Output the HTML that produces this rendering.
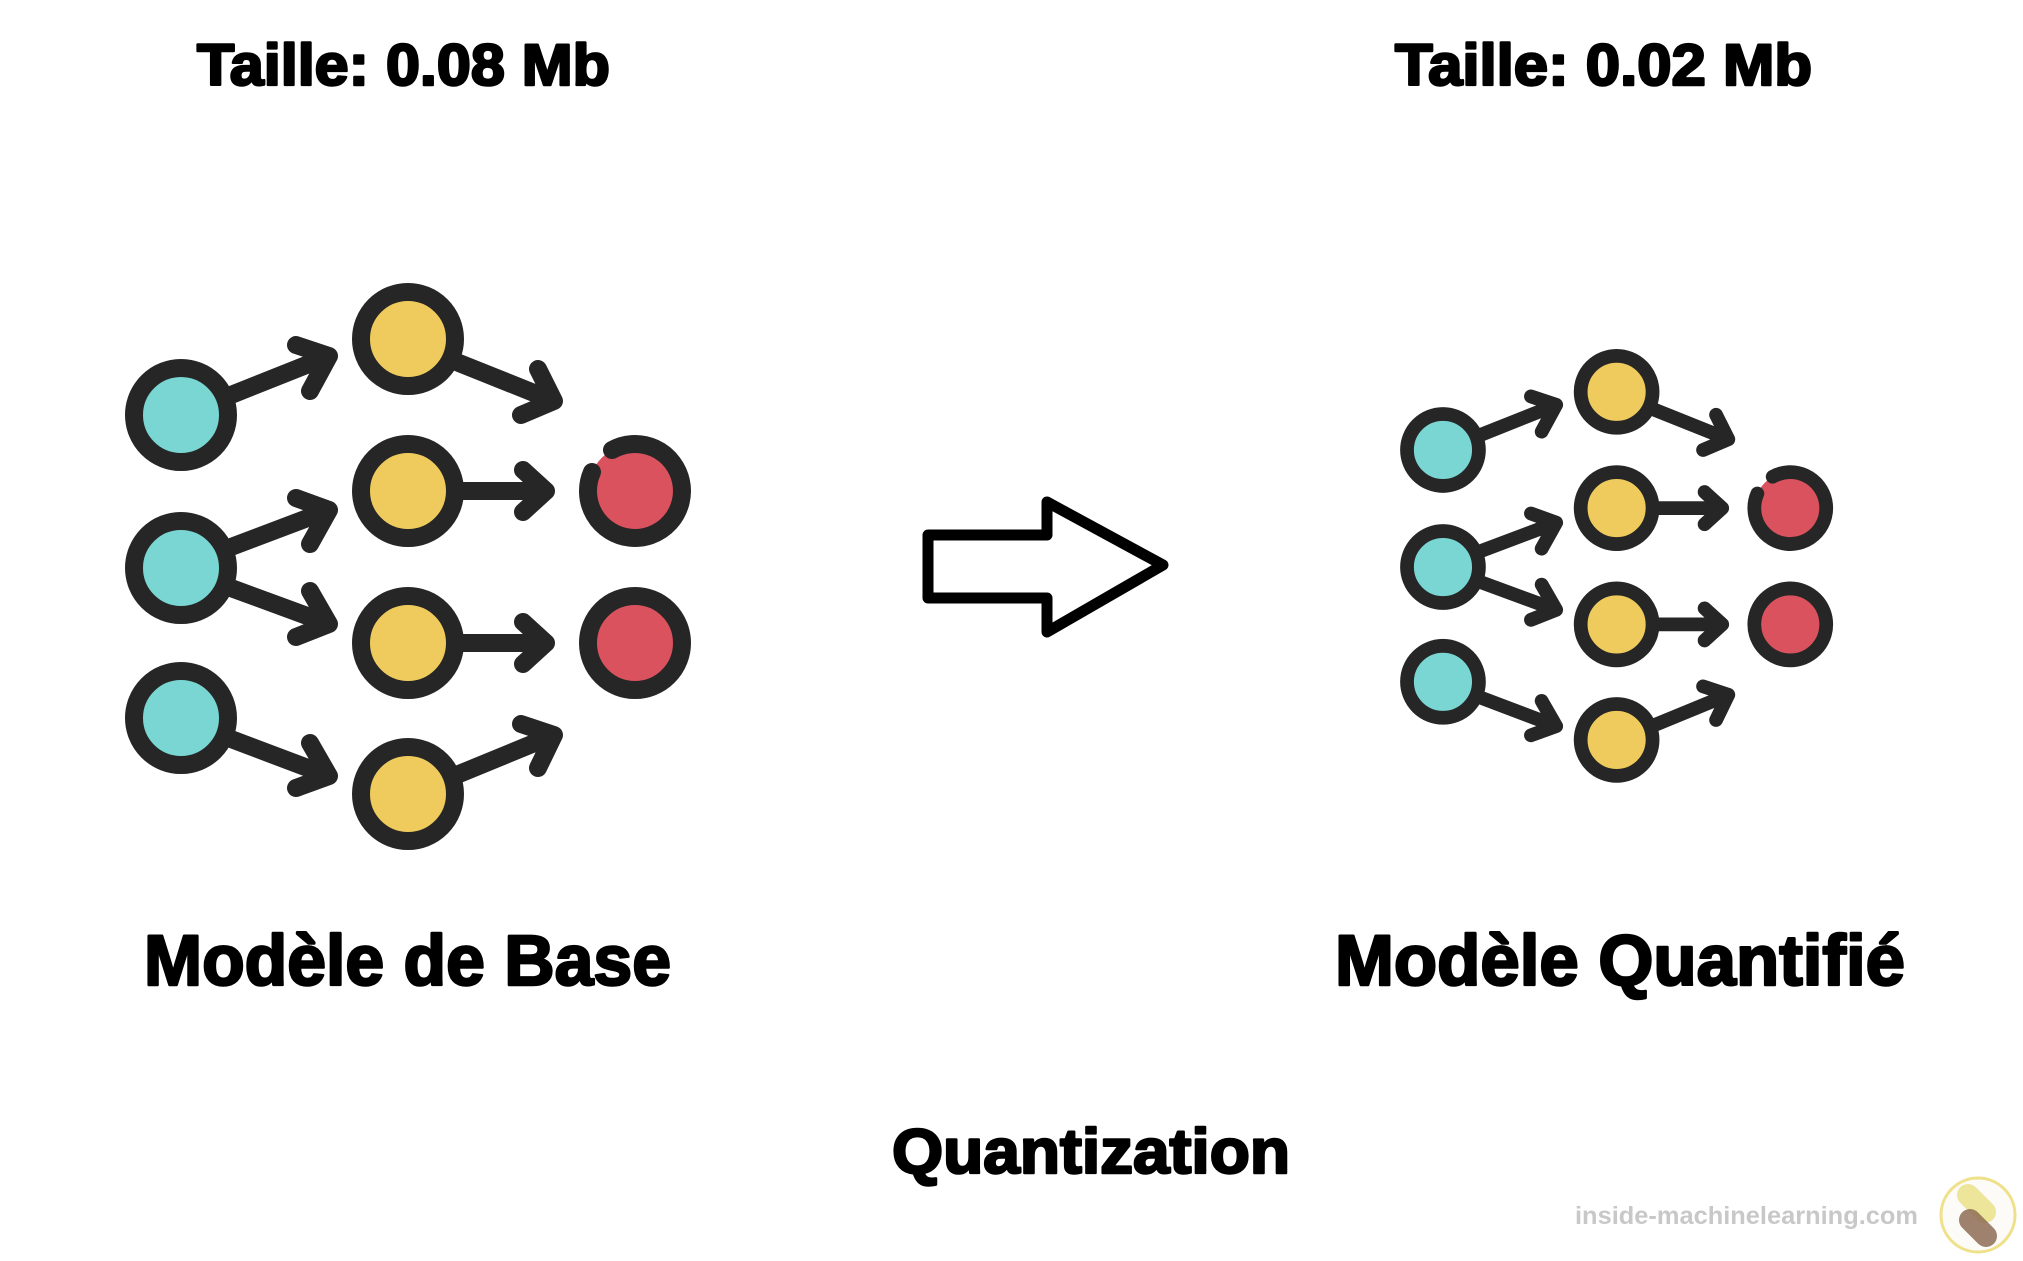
<!DOCTYPE html>
<html><head><meta charset="utf-8"><style>
html,body{margin:0;padding:0;background:#fff;}
svg{display:block;}
text{font-family:"Liberation Sans",sans-serif;font-weight:bold;fill:#000;}
.h{stroke:#000;stroke-width:2.5;stroke-linejoin:round;}
</style></head><body>
<svg width="2023" height="1261" viewBox="0 0 2023 1261" xmlns="http://www.w3.org/2000/svg">
<defs>
<g id="net" stroke="#262626" stroke-width="18" stroke-linecap="round" stroke-linejoin="round" fill="none">
  <path d="M231,395 L329,356 M296,345 L329,356 L310,391"/>
  <path d="M459,363 L554,401 M538,369 L554,401 L521,415"/>
  <path d="M463,491 L546,491 M523,470 L546,491 L523,512"/>
  <path d="M231,547 L329,510 M296,498 L329,510 L310,544"/>
  <path d="M231,588 L329,624 M310,591 L329,624 L296,637"/>
  <path d="M463,643 L546,643 M523,622 L546,643 L523,664"/>
  <path d="M231,739 L329,776 M310,743 L329,776 L296,788"/>
  <path d="M459,774 L554,735 M521,724 L554,735 L538,768"/>
  <circle cx="181" cy="415" r="47" fill="#79d6d3"/>
  <circle cx="181" cy="568" r="47" fill="#79d6d3"/>
  <circle cx="181" cy="718" r="47" fill="#79d6d3"/>
  <circle cx="408" cy="339" r="47" fill="#eecb5c"/>
  <circle cx="408" cy="491" r="47" fill="#eecb5c"/>
  <circle cx="408" cy="643" r="47" fill="#eecb5c"/>
  <circle cx="408" cy="794" r="47" fill="#eecb5c"/>
  <circle cx="635" cy="491" r="47" fill="#d9525d" stroke="none"/>
  <path d="M612,450 A47,47 0 1 1 592,472"/>
  <circle cx="635" cy="643" r="47" fill="#d9525d"/>
</g>
</defs>
<text class="h" x="197" y="85" font-size="58" textLength="413" lengthAdjust="spacingAndGlyphs">Taille:  0.08 Mb</text>
<text class="h" x="1395" y="85" font-size="58" textLength="417" lengthAdjust="spacingAndGlyphs">Taille:  0.02 Mb</text>
<use href="#net"/>
<g transform="translate(1304.5,132.5) scale(0.765)"><use href="#net"/></g>
<path d="M928,535 L1047,535 L1047,502 L1163,565 L1047,632 L1047,598 L928,598 Z" fill="#fff" stroke="#000" stroke-width="11" stroke-linejoin="round"/>
<text class="h" x="144" y="985" font-size="71" textLength="527" lengthAdjust="spacingAndGlyphs">Modèle de Base</text>
<text class="h" x="1335" y="985" font-size="71" textLength="570" lengthAdjust="spacingAndGlyphs">Modèle Quantifié</text>
<text class="h" x="892" y="1173" font-size="63" textLength="398" lengthAdjust="spacingAndGlyphs">Quantization</text>
<text x="1575" y="1224" font-size="25" style="fill:#c8c8c8" textLength="343" lengthAdjust="spacingAndGlyphs">inside-machinelearning.com</text>
<circle cx="1978" cy="1215" r="37" fill="#fdfbf7" stroke="#efe08a" stroke-width="3"/>
<path d="M1968,1195 L1985,1212" stroke="#ece38f" stroke-width="22" stroke-linecap="round" opacity="0.9"/>
<path d="M1970,1220 L1986,1236" stroke="#8e6e55" stroke-width="22" stroke-linecap="round" opacity="0.85"/>
</svg>
</body></html>
